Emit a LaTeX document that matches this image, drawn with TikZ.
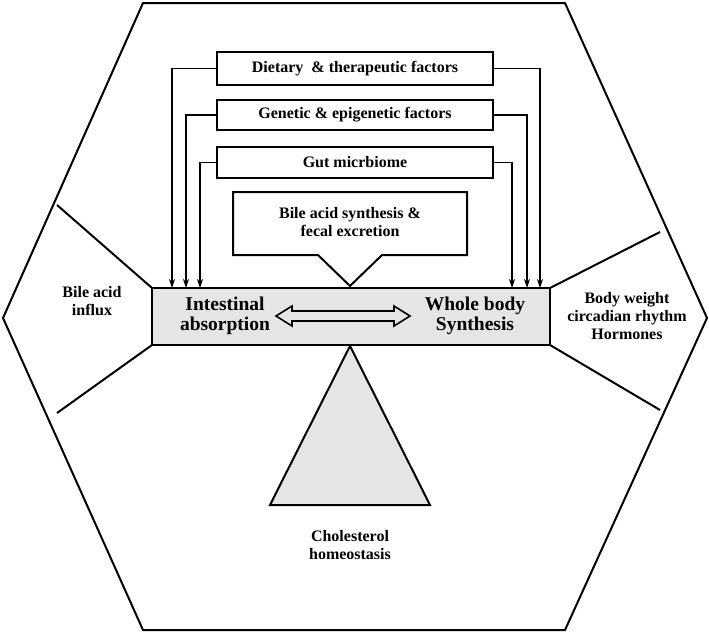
\documentclass[tikz,border=0pt]{standalone}
\usepackage{fontspec}
\setmainfont{Liberation Serif}
\usetikzlibrary{arrows.meta}
\begin{document}
\begin{tikzpicture}[x=1pt,y=-1pt,line width=2pt,
  box/.style={draw,fill=white,align=center,font=\bfseries\fontsize{16}{18}\selectfont,inner sep=0pt},
  lbl/.style={align=center,font=\bfseries\fontsize{16}{18}\selectfont},
  big/.style={align=center,font=\bfseries\fontsize{19.5}{20}\selectfont},
  arr/.style={-{Stealth[length=9pt,width=6pt]},line width=1.6pt}]
\useasboundingbox (0,0) rectangle (709,633);
\draw (143,3) -- (565,3) -- (707,318) -- (565,630) -- (143,630) -- (3,318) -- cycle;
\draw (57,205) -- (152,288); \draw (152,345) -- (57,413);
\draw (550,288) -- (660,232); \draw (550,345) -- (660,410);
\node[draw,fill=black!10,minimum width=398pt,minimum height=57pt,inner sep=0pt] (bar) at (351,316.5) {};
\node[box,minimum width=276pt,minimum height=33pt] (diet) at (355,68.5) {Dietary \ \& therapeutic factors};
\node[box,minimum width=276pt,minimum height=30pt] (gen) at (355,115) {Genetic \& epigenetic factors};
\node[box,minimum width=276pt,minimum height=31pt] (gut) at (355,162.5) {Gut micrbiome};
\draw[fill=white] (233,192) -- (467,192) -- (467,255) -- (382,255) -- (350,286) -- (318,255) -- (233,255) -- cycle;
\node[lbl] (bile) at (350,222) {Bile acid synthesis \&\\fecal excretion};
\coordinate (l1) at (172,288); \coordinate (l2) at (186,288); \coordinate (l3) at (200,288);
\coordinate (r1) at (540,288); \coordinate (r2) at (527,288); \coordinate (r3) at (512,288);
\draw[arr] (diet.west) -| (l1); \draw[arr] (gen.west) -| (l2); \draw[arr] (gut.west) -| (l3);
\draw[arr] (diet.east) -| (r1); \draw[arr] (gen.east) -| (r2); \draw[arr] (gut.east) -| (r3);
\node[big] (ia) at (225,316) {Intestinal\\absorption};
\node[big] (wb) at (475,316) {Whole body\\Synthesis};
\draw[line width=1.6pt] (276,316) -- (292,306) -- (292,311) -- (394,311) -- (394,306) -- (410,316) -- (394,326) -- (394,321) -- (292,321) -- (292,326) -- cycle;
\node[lbl] (infl) at (92,301) {Bile acid\\influx};
\node[lbl] (bw) at (627,316) {Body weight\\circadian rhythm\\Hormones};
\draw[fill=black!10] (350,346) -- (430,505) -- (270,505) -- cycle;
\node[lbl] (ch) at (350,545) {Cholesterol\\homeostasis};
\end{tikzpicture}
\end{document}
